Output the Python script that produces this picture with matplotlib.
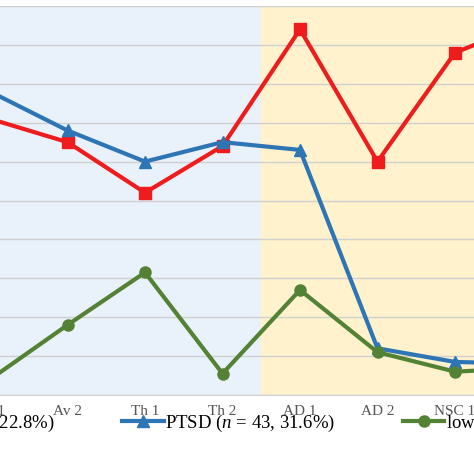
import matplotlib
matplotlib.use("Agg")
import matplotlib.pyplot as plt

categories = ["Av 1", "Av 2", "Th 1", "Th 2", "AD 1", "AD 2", "NSC 1", "NSC 2"]
cptsd = [7.1, 6.5, 5.2, 6.4, 9.4, 6.0, 8.8, 9.6]
ptsd = [7.8, 6.8, 6.0, 6.5, 6.3, 1.2, 0.85, 0.8]
low = [0.4, 1.8, 3.15, 0.55, 2.7, 1.1, 0.6, 0.7]
labels = ["CPTSD ($n$ = 31, 22.8%)", "PTSD ($n$ = 43, 31.6%)", "low symptom ($n$ = 62, 45.6%)"]

plt.rcParams['font.family'] = ['Liberation Serif', 'DejaVu Serif']
plt.rcParams['mathtext.fontset'] = 'custom'
plt.rcParams['mathtext.rm'] = 'Liberation Serif'
plt.rcParams['mathtext.it'] = 'Liberation Serif:italic'
fig = plt.figure(figsize=(4.74, 4.74), dpi=100)
W = 474
sp = 77.5
left = -10 - sp / 2
right = left + 8 * sp
ax = fig.add_axes([left / W, 1 - 395 / W, (right - left) / W, (395 - 6) / W])
x = list(range(len(categories)))
ax.axvspan(-0.5, 3.5, color="#e9f1fa", zorder=0)
ax.axvspan(3.5, 7.5, color="#fff2cc", zorder=0)
ax.set_xlim(-0.5, 7.5)
ax.set_ylim(0, 10)
ax.set_yticks(range(0, 11))
ax.yaxis.grid(True, color="#d0d0d0", lw=1)
ax.set_axisbelow(True)
ax.tick_params(left=False, labelleft=False, bottom=False, labelsize=11, colors="#555555", pad=4)
for s in ["top", "left", "right"]:
    ax.spines[s].set_visible(False)
ax.spines["bottom"].set_color("#d0d0d0")
ax.set_xticks(x)
ax.set_xticklabels(categories)
h1, = ax.plot(x, cptsd, color="#ee1c1c", lw=3, marker="s", ms=8, label=labels[0], zorder=3)
h2, = ax.plot(x, ptsd, color="#2e75b6", lw=3, marker="^", ms=8, label=labels[1], zorder=3)
h3, = ax.plot(x, low, color="#548235", lw=3, marker="o", ms=8, label=labels[2], zorder=3)
fig.legend(handles=[h1, h2, h3], loc="center", bbox_to_anchor=(251 / W, 1 - 423 / W), ncol=3,
           frameon=False, fontsize=13.5, columnspacing=3.6, handlelength=2.2, handletextpad=0.1)
fig.savefig("out.png", dpi=100)
